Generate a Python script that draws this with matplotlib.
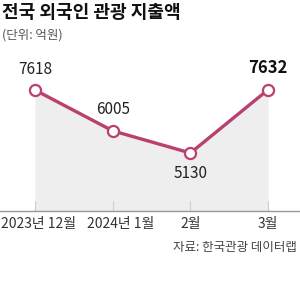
import matplotlib
matplotlib.use('Agg')
import matplotlib.pyplot as plt
from matplotlib.transforms import ScaledTranslation

plt.rcParams['font.family'] = ['Noto Sans CJK KR', 'DejaVu Sans']

# Data
months = ['2023년 12월', '2024년 1월', '2월', '3월']
spend = [7618, 6005, 5130, 7632]

line_color = '#b8416f'

fig = plt.figure(figsize=(3.0, 2.94), dpi=100)
# axes: x 0..300 px, y 60..211 px (from top)
ax = fig.add_axes([0.0, 1 - 211 / 294, 1.0, 151 / 294])

x = list(range(len(spend)))
ax.fill_between(x, spend, 0, color='#eeeeee', lw=0, zorder=1)
ax.plot(x, spend, color=line_color, lw=2.4, zorder=2,
        marker='o', ms=8, mfc='white', mec=line_color, mew=1.6)

ax.set_xlim(-0.45, 3.41)
ax.set_ylim(2839, 8803)

# value labels
ax.annotate('7618', (0, spend[0]), xytext=(0, 9), textcoords='offset points',
            ha='center', va='bottom', fontsize=11, color='#222222')
ax.annotate('6005', (1, spend[1]), xytext=(0, 9), textcoords='offset points',
            ha='center', va='bottom', fontsize=11, color='#222222')
ax.annotate('5130', (2, spend[2]), xytext=(0, -9), textcoords='offset points',
            ha='center', va='top', fontsize=11, color='#222222')
ax.annotate('7632', (3, spend[3]), xytext=(0, 9), textcoords='offset points',
            ha='center', va='bottom', fontsize=12, fontweight='bold', color='#111111')

ax.set_xticks(x)
ax.set_xticklabels(months, fontsize=10, color='#333333')
ax.tick_params(axis='x', direction='in', length=7, color='#cccccc', pad=4)
# first two labels sit a little right of their ticks
labels = ax.get_xticklabels()
labels[0].set_ha('left')
labels[0].set_transform(labels[0].get_transform() + ScaledTranslation(-0.34, 0, fig.dpi_scale_trans))
labels[1].set_transform(labels[1].get_transform() + ScaledTranslation(0.08, 0, fig.dpi_scale_trans))
ax.set_yticks([])
for s in ['top', 'left', 'right']:
    ax.spines[s].set_visible(False)
ax.spines['bottom'].set_color('#999999')
ax.spines['bottom'].set_linewidth(1)
ax.patch.set_alpha(0)

fig.text(0.005, 1 - 13 / 294, '전국 외국인 관광 지출액', fontsize=13,
         fontweight='bold', color='#111111', va='center', ha='left')
fig.text(0.005, 1 - 35 / 294, '(단위: 억원)', fontsize=9, color='#555555',
         va='center', ha='left')
fig.text(0.99, 1 - 248 / 294, '자료: 한국관광 데이터랩', fontsize=9,
         color='#444444', va='center', ha='right')

fig.savefig('out.png', dpi=100)
